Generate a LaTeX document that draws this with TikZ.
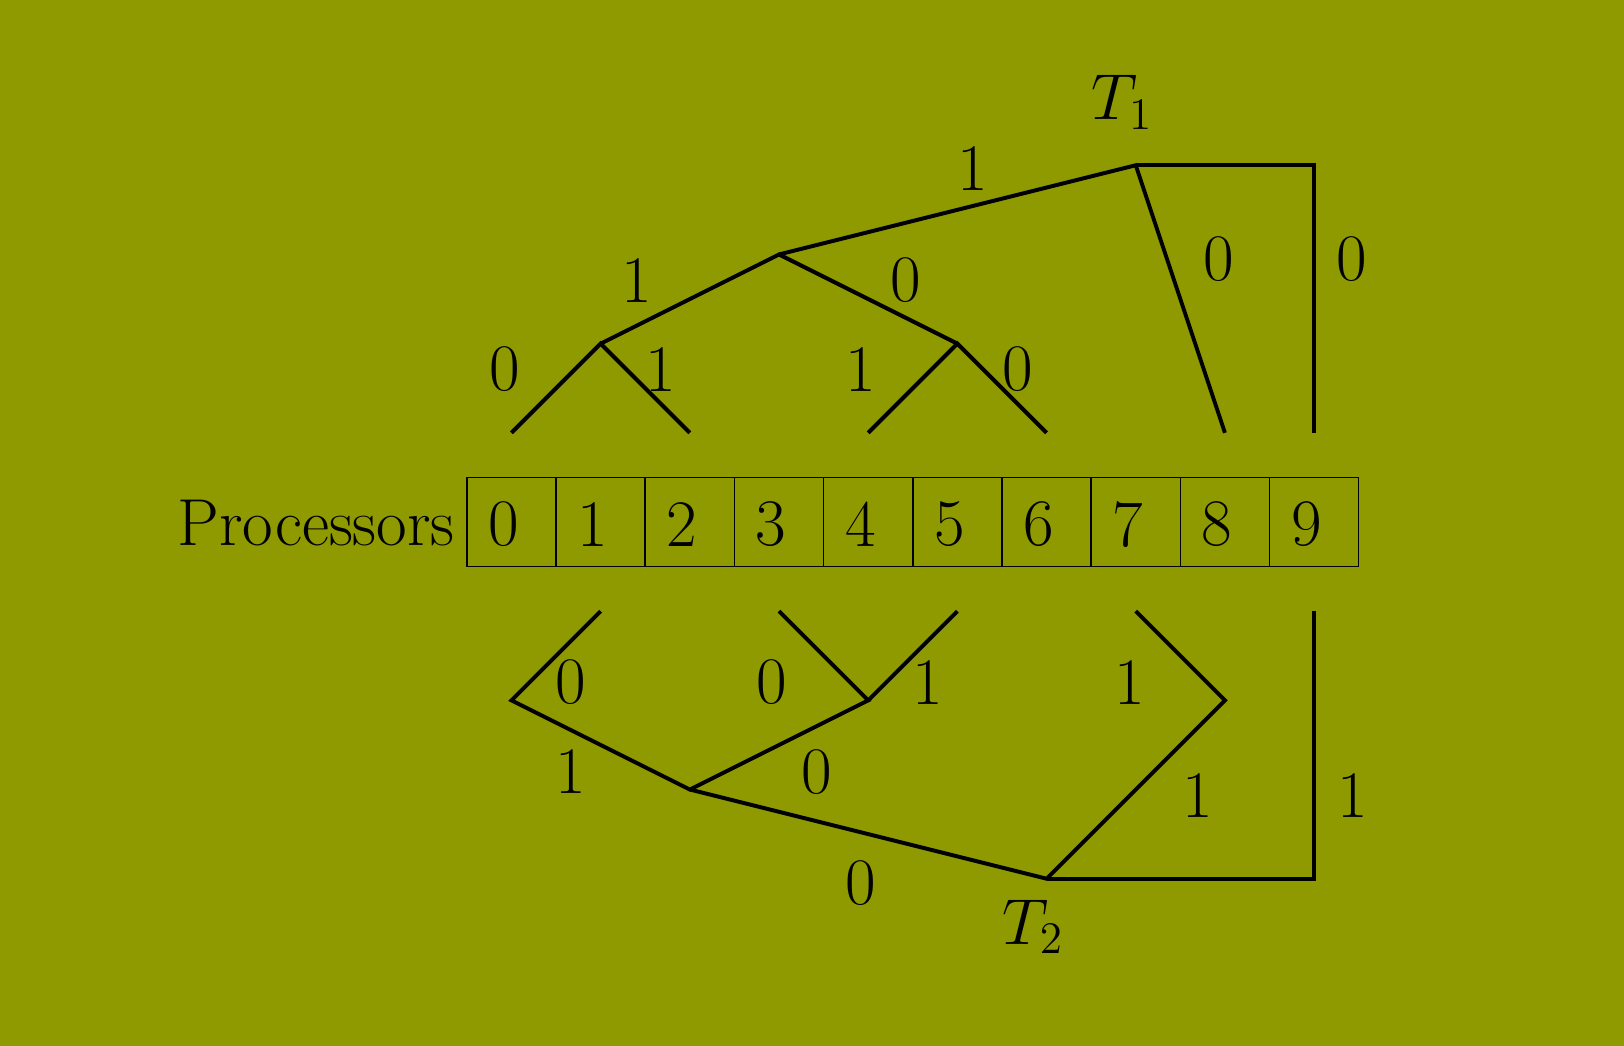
\documentclass[tikz,border=0pt]{standalone}
\usepackage{xcolor}
\definecolor{bgolive}{RGB}{143,153,0}
\begin{document}
\begin{tikzpicture}[
  edge/.style={line width=1.25pt, line join=miter},
  lbl/.style={font=\fontsize{21.2}{25}\selectfont, inner sep=0pt},
  cell/.style={draw, line width=0.5pt, minimum size=1cm, inner sep=0pt}
]
\fill[bgolive] (-5.235,-5.375) rectangle (12.975,6.353);
\useasboundingbox (-5.235,-5.375) rectangle (12.975,6.353);
\foreach \i in {0,...,9} {
  \node[cell] (c\i) at (\i+0.5,0.5) {};
  \node[lbl] (n\i) at (\i+0.412,0.475) {\i};
}
\node[lbl, anchor=base east] (proc) at ([xshift=-0.12cm]n0.base -| c0.west) {Processors};
% top tree
\coordinate (a0) at (0.5,1.5);
\coordinate (a1) at (2.5,1.5);
\coordinate (a2) at (4.5,1.5);
\coordinate (a3) at (6.5,1.5);
\coordinate (a4) at (8.5,1.5);
\coordinate (a5) at (9.5,1.5);
\coordinate (b0) at (1.5,2.5);
\coordinate (b1) at (5.5,2.5);
\coordinate (r1) at (3.5,3.5);
\coordinate (T1n) at (7.5,4.5);
\coordinate (tc) at (9.5,4.5);
% bottom tree
\coordinate (d0) at (1.5,-0.5);
\coordinate (d1) at (3.5,-0.5);
\coordinate (d2) at (5.5,-0.5);
\coordinate (d3) at (7.5,-0.5);
\coordinate (d4) at (9.5,-0.5);
\coordinate (e0) at (0.5,-1.5);
\coordinate (e1) at (4.5,-1.5);
\coordinate (e2) at (8.5,-1.5);
\coordinate (f0) at (2.5,-2.5);
\coordinate (T2n) at (6.5,-3.5);
\coordinate (bc) at (9.5,-3.5);
\draw[edge] (a0) -- (b0) -- (a1);
\draw[edge] (b0) -- (r1) -- (b1);
\draw[edge] (a2) -- (b1) -- (a3);
\draw[edge] (r1) -- (T1n) -- (a4);
\draw[edge] (T1n) -- (tc) -- (a5);
\draw[edge] (d0) -- (e0) -- (f0) -- (e1) -- (d1);
\draw[edge] (e1) -- (d2);
\draw[edge] (f0) -- (T2n) -- (e2) -- (d3);
\draw[edge] (T2n) -- (bc) -- (d4);
% labels top
\node[lbl] (t1) at (7.35,5.21) {$T_1$};
\node[lbl] (l1) at (5.67,4.46) {1};
\node[lbl] (l2) at (1.91,3.21) {1};
\node[lbl] (l3) at (4.92,3.21) {0};
\node[lbl] (l4) at (8.43,3.45) {0};
\node[lbl] (l5) at (9.92,3.45) {0};
\node[lbl] (l6) at (0.42,2.21) {0};
\node[lbl] (l7) at (2.17,2.21) {1};
\node[lbl] (l8) at (4.42,2.21) {1};
\node[lbl] (l9) at (6.18,2.21) {0};
% labels bottom
\node[lbl] (m1) at (1.17,-1.30) {0};
\node[lbl] (m2) at (3.42,-1.30) {0};
\node[lbl] (m3) at (5.17,-1.30) {1};
\node[lbl] (m4) at (7.43,-1.30) {1};
\node[lbl] (m5) at (1.17,-2.30) {1};
\node[lbl] (m6) at (3.92,-2.30) {0};
\node[lbl] (m7) at (8.19,-2.57) {1};
\node[lbl] (m8) at (9.93,-2.57) {1};
\node[lbl] (m9) at (4.42,-3.55) {0};
\node[lbl] (t2) at (6.35,-4.04) {$T_2$};
\end{tikzpicture}
\end{document}
